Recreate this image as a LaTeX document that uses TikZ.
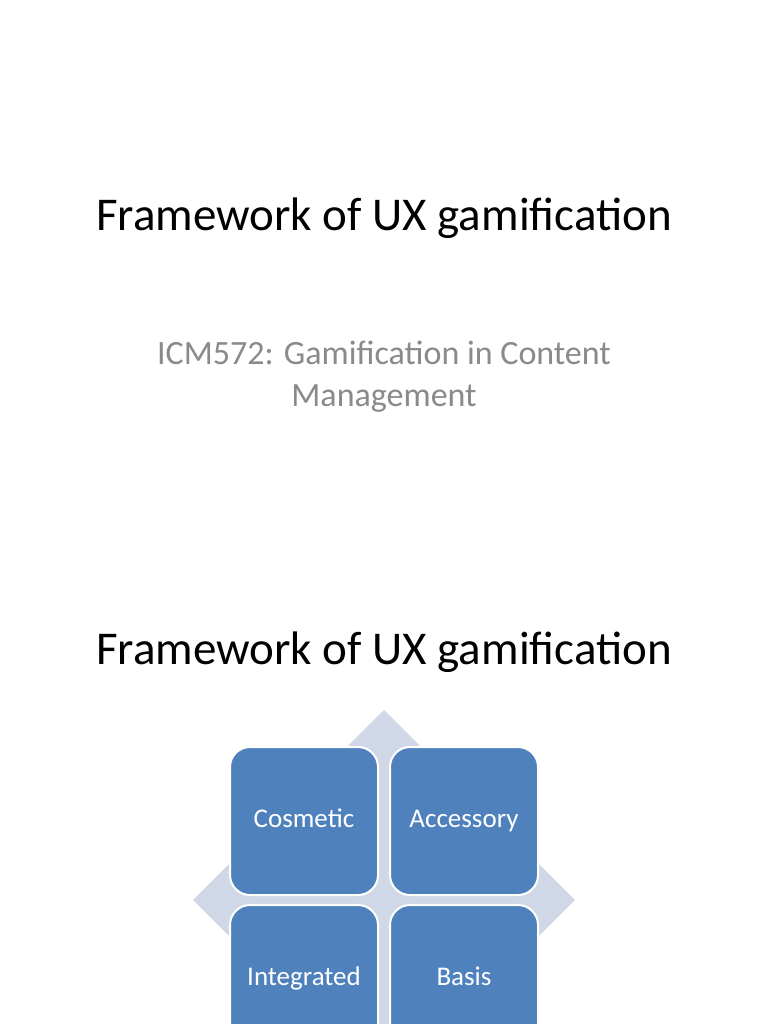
\documentclass[tikz,border=0pt]{standalone}
\usepackage{fontspec}
\setmainfont{Carlito}
\begin{document}
\begin{tikzpicture}[x=1pt,y=-1pt,
  title/.style={font=\fontsize{47}{56}\selectfont, text=black, inner sep=0pt},
  subtitle/.style={font=\fontsize{34}{42}\selectfont, text=subgray, align=center, inner sep=0pt},
  tile/.style={draw=white, line width=2pt, fill=tileblue, rounded corners=20pt,
     minimum width=148pt, minimum height=148pt, inner sep=0pt,
     text height=1.3em, text depth=0.1em,
     text=white, font=\fontsize{27}{32}\selectfont}]
\definecolor{tileblue}{HTML}{4F81BD}
\definecolor{diamondbg}{HTML}{D0D8E8}
\definecolor{subgray}{HTML}{8A8A8A}
\useasboundingbox (0,0) rectangle (768,1024);
\clip (0,0) rectangle (768,1024);
\fill[white] (0,0) rectangle (768,1024);
\node[title] (t1) at (384,218) {Framework of UX gamification};
\node[subtitle] (sub) at (384,377) {ICM572: Gamification in Content\\Management};
\node[title] (t2) at (384,652) {Framework of UX gamification};
\fill[diamondbg] (384,710) coordinate (dtop) -- (575,900) coordinate (dright) -- (384,1090) coordinate (dbot) -- (193,900) coordinate (dleft) -- cycle;
\node[tile] (cos) at (304,821) {Cosmetic};
\node[tile] (acc) at (464,821) {Accessory};
\node[tile] (int) at (304,979) {Integrated};
\node[tile] (bas) at (464,979) {Basis};
\end{tikzpicture}
\end{document}
